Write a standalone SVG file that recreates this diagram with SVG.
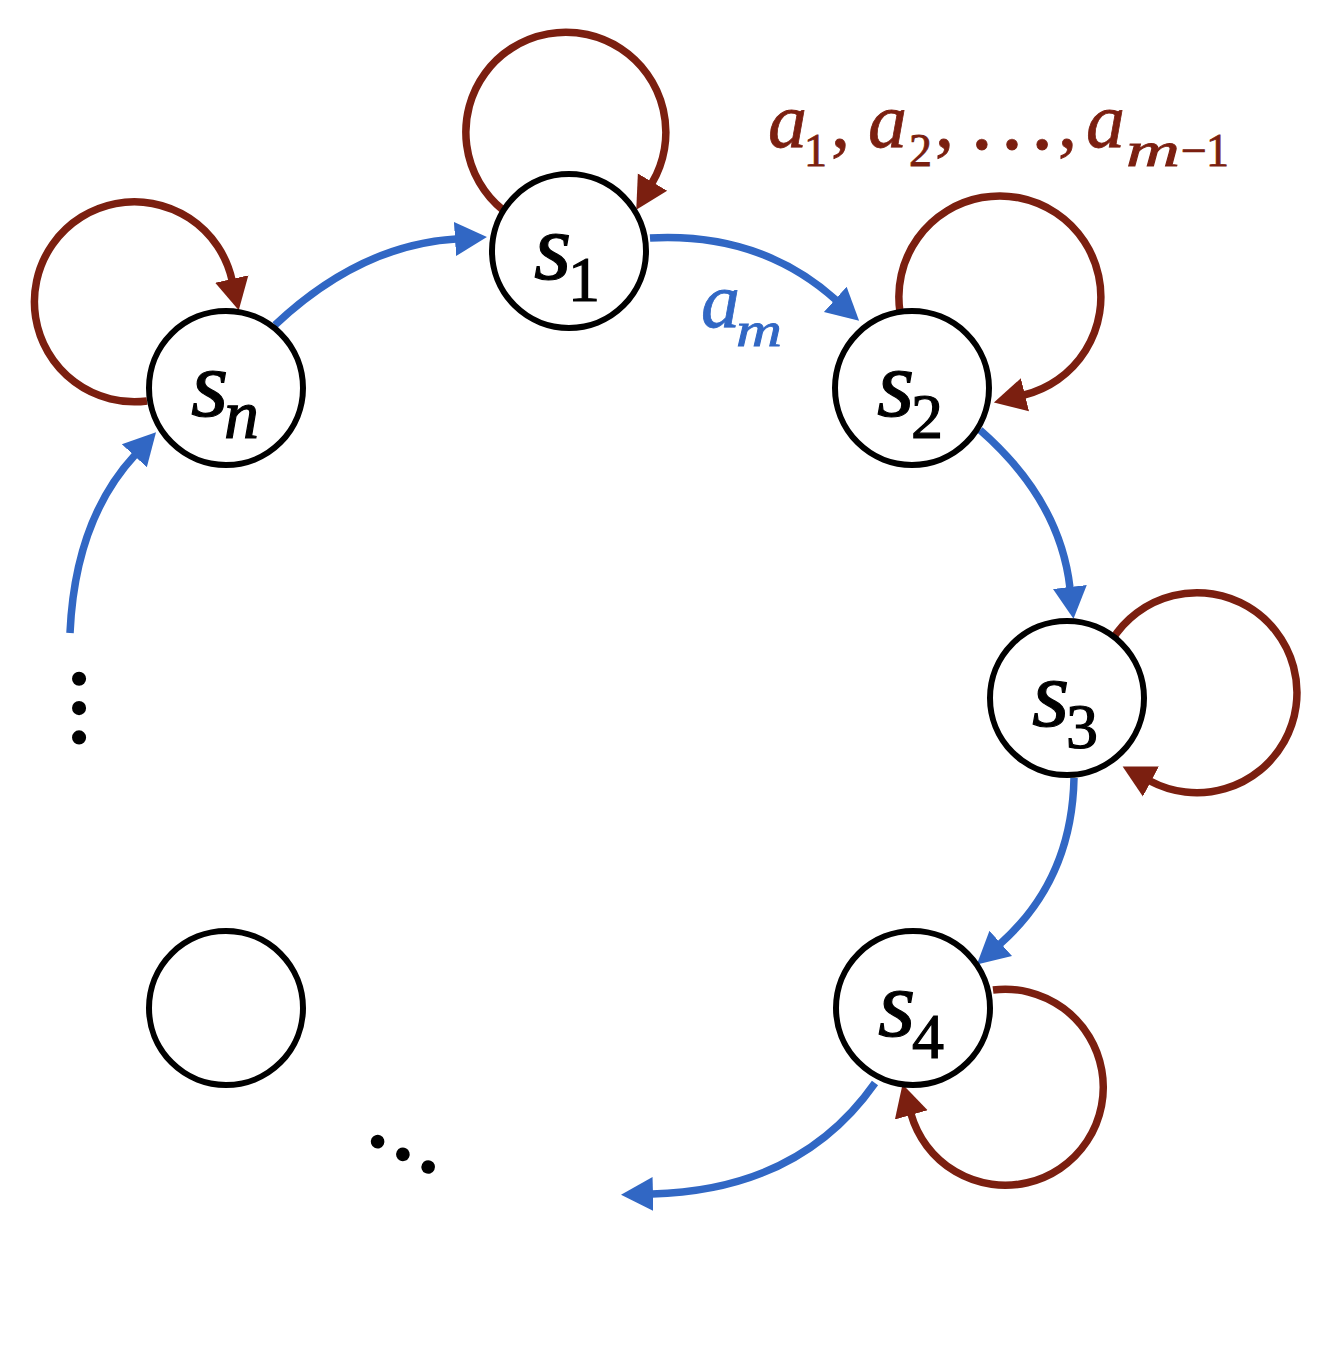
<svg xmlns="http://www.w3.org/2000/svg" width="1332" height="1348" viewBox="0 0 1332 1348">
<style>
.node{fill:#fff;stroke:#000;stroke-width:6}
.loop{fill:none;stroke:#7b1f10;stroke-width:7.5}
.edge{fill:none;stroke:#3167c4;stroke-width:7.5}
.it{font-family:'Liberation Serif','Times New Roman','DejaVu Serif',serif;font-style:italic}
.rm{font-family:'Liberation Serif','Times New Roman','DejaVu Serif',serif;font-style:normal}
.lab{fill:#000;stroke:#000;stroke-width:1.2}
.red{fill:#7b1f10;stroke:#7b1f10;stroke-width:0.8}
.blue{fill:#3167c4;stroke:#3167c4;stroke-width:0.8}
.dots{font-family:'Liberation Serif','Times New Roman',serif;font-weight:bold;fill:#000}
</style>
<defs>
<marker id="ar" markerUnits="userSpaceOnUse" markerWidth="36" markerHeight="36" refX="1" refY="17" orient="auto" viewBox="0 0 36 34">
<path d="M0,0 L32,17 L0,34 z" fill="#7b1f10"/>
</marker>
<marker id="ab" markerUnits="userSpaceOnUse" markerWidth="36" markerHeight="36" refX="1" refY="17" orient="auto" viewBox="0 0 36 34">
<path d="M0,0 L32,17 L0,34 z" fill="#3167c4"/>
</marker>
</defs>
<rect width="1332" height="1348" fill="#fff"/>
<g id="connectors">
<path class="loop" d="M147,401 A100,100 0 1 1 232,280" marker-end="url(#ar)"/>
<path class="loop" d="M503,210 A100,100 0 1 1 652,183" marker-end="url(#ar)"/>
<path class="loop" d="M900,312 A101,101 0 1 1 1024,395" marker-end="url(#ar)"/>
<path class="loop" d="M1112,640 A100,100 0 1 1 1150,781" marker-end="url(#ar)"/>
<path class="loop" d="M993,990 A98,98 0 1 1 911,1114" marker-end="url(#ar)"/>
<path class="edge" d="M275,325 Q360,245 456,239" marker-end="url(#ab)"/>
<path class="edge" d="M650,238 Q760,232 836,300" marker-end="url(#ab)"/>
<path class="edge" d="M980,430 Q1060,500 1070,588" marker-end="url(#ab)"/>
<path class="edge" d="M1074,778 Q1072,880 1000,944" marker-end="url(#ab)"/>
<path class="edge" d="M875,1083 Q800,1190 652,1194" marker-end="url(#ab)"/>
<path class="edge" d="M70,633 Q75,520 135,455" marker-end="url(#ab)"/>
</g>
<g id="node-s1">
<circle class="node" cx="569" cy="251" r="77"/>
<text class="it lab" x="534" y="279" font-size="96">s</text>
<text class="rm lab" x="568" y="301" font-size="64">1</text>
</g>
<g id="node-sn">
<circle class="node" cx="226" cy="388" r="77"/>
<text class="it lab" x="191" y="416" font-size="96">s</text>
<text class="it lab" x="224" y="438" font-size="70">n</text>
</g>
<g id="node-s2">
<circle class="node" cx="912" cy="388" r="77"/>
<text class="it lab" x="877" y="416" font-size="96">s</text>
<text class="rm lab" x="911" y="438" font-size="64">2</text>
</g>
<g id="node-s3">
<circle class="node" cx="1067" cy="698" r="77"/>
<text class="it lab" x="1032" y="726" font-size="96">s</text>
<text class="rm lab" x="1066" y="748" font-size="64">3</text>
</g>
<g id="node-s4">
<circle class="node" cx="913" cy="1008" r="77"/>
<text class="it lab" x="878" y="1036" font-size="96">s</text>
<text class="rm lab" x="912" y="1058" font-size="64">4</text>
</g>
<g id="node-empty">
<circle class="node" cx="226" cy="1008" r="77"/>
</g>
<g id="label-am">
<text class="it blue" x="701" y="327" font-size="78">a</text>
<text class="it blue" x="736" y="346" font-size="48" textLength="46" lengthAdjust="spacingAndGlyphs">m</text>
</g>
<g id="label-loops">
<text class="it red" x="768" y="147" font-size="78">a</text>
<text class="rm red" x="804" y="166" font-size="46">1</text>
<text class="rm red" x="831" y="147" font-size="76">,</text>
<text class="it red" x="868" y="147" font-size="78">a</text>
<text class="rm red" x="909" y="166" font-size="46">2</text>
<text class="rm red" x="935" y="147" font-size="76">,</text>
<text class="rm red" x="967" y="149" font-size="90">…</text>
<text class="rm red" x="1058" y="147" font-size="76">,</text>
<text class="it red" x="1086" y="147" font-size="78">a</text>
<text class="it red" x="1126" y="166" font-size="48" textLength="54" lengthAdjust="spacingAndGlyphs">m</text>
<text class="rm red" x="1181" y="166" font-size="46">−</text>
<text class="rm red" x="1206" y="166" font-size="46">1</text>
</g>
<g id="ellipses">
<text class="dots" font-size="87" text-anchor="middle" x="0" y="6" transform="translate(79,708) rotate(90)">…</text>
<text class="dots" font-size="84" text-anchor="middle" x="0" y="6" transform="translate(403,1154) rotate(26.6)">…</text>
</g>
</svg>
